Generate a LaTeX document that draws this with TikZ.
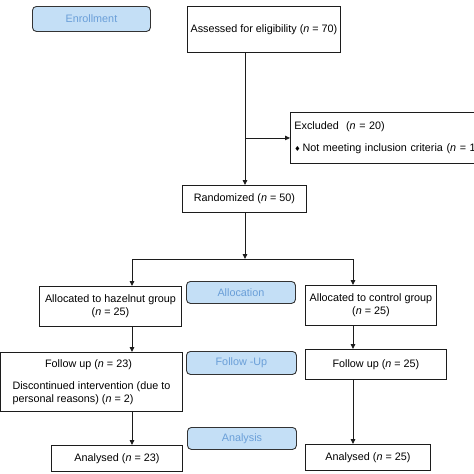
\documentclass[tikz,border=0pt]{standalone}
\usepackage{fontspec}
\setmainfont{Liberation Sans}
\newfontfamily\symfont{DejaVu Sans}
\usetikzlibrary{arrows.meta,positioning}

\definecolor{stagefill}{HTML}{C4DFF6}
\definecolor{stagetext}{HTML}{6A9FD8}
\definecolor{lines}{HTML}{1C1C1C}

\newcommand{\nn}{\textit{n}}

\begin{document}
\begin{tikzpicture}[x=1pt,y=-1pt,
  font=\fontsize{10.8}{13}\selectfont,
  box/.style={draw=lines, line width=0.9pt, anchor=north west, inner sep=3pt},
  stage/.style={draw=black!80, line width=0.9pt, rounded corners=4pt,
    fill=stagefill, text=stagetext, anchor=north west},
  flow/.style={draw=lines, line width=0.9pt, -{Triangle[length=5pt,width=4.5pt]}}]
  \useasboundingbox (0,0) rectangle (474,474);
  \clip (0,0) rectangle (474,474);

  % stage labels
  \node[stage, minimum width=118pt, minimum height=25pt] (enrol) at (32,6) {Enrollment} ; %
  \node[stage, minimum width=109pt, minimum height=22pt] (alloc) at (186,281) {Allocation} ; %
  \node[stage, minimum width=110pt, minimum height=23pt] (follow) at (186,351) {Follow -Up} ; %
  \node[stage, minimum width=109pt, minimum height=22pt] (analysis) at (187,427) {Analysis} ; %

  % flow boxes
  \node[box, minimum width=153pt, minimum height=46pt] (assess) at (187,6) {Assessed for eligibility (\nn{} = 70)} ; %
  \node[box, minimum width=200pt, minimum height=51pt, text width=192pt, align=left] (excl) at (290,112)
    {Excluded\ \ (\nn{} = 20)\\[9pt]{\symfont\fontsize{7}{8}\selectfont\char"2666}\,Not meeting inclusion criteria (\nn{} = 17)} ; %
  \node[box, minimum width=124pt, minimum height=27pt] (rand) at (182,185) {Randomized (\nn{} = 50)} ; %
  \node[box, minimum width=142pt, minimum height=40pt, align=center] (hazel) at (39,286)
    {Allocated to hazelnut group\\(\nn{} = 25)} ; %
  \node[box, minimum width=131pt, minimum height=40pt, align=center] (ctrl) at (305,285)
    {Allocated to control group\\(\nn{} = 25)} ; %
  \node[box, minimum width=182pt, minimum height=59pt, align=left] (fuL) at (0,352)
    {\makebox[152pt]{Follow up (\nn{} = 23)}\\[9pt]Discontinued intervention (due to\\personal reasons) (\nn{} = 2)} ; %
  \node[box, minimum width=141pt, minimum height=30pt] (fuR) at (305,349) {Follow up (\nn{} = 25)} ; %
  \node[box, minimum width=131pt, minimum height=26pt] (anL) at (51,445) {Analysed (\nn{} = 23)} ; %
  \node[box, minimum width=125pt, minimum height=26pt] (anR) at (305,444) {Analysed (\nn{} = 25)} ; %

  % connectors
  \coordinate (split) at (245,259) ; %
  \coordinate (lsplit) at (132,259) ; %
  \coordinate (rsplit) at (353,259) ; %

  \draw[flow] (split |- assess.south) -- (split |- rand.north) ;
  \draw[flow] (split |- excl.west) -- (excl.west) ;
  \draw[flow] (split |- rand.south) -- (split) ;
  \draw[draw=lines, line width=0.9pt] (lsplit) -- (rsplit) ;
  \draw[flow] (lsplit) -- (lsplit |- hazel.north) ;
  \draw[flow] (rsplit) -- (rsplit |- ctrl.north) ;
  \draw[flow] (lsplit |- hazel.south) -- (lsplit |- fuL.north) ;
  \draw[flow] (rsplit |- ctrl.south) -- (rsplit |- fuR.north) ;
  \draw[flow] (lsplit |- fuL.south) -- (lsplit |- anL.north) ;
  \draw[flow] (rsplit |- fuR.south) -- (rsplit |- anR.north) ;
\end{tikzpicture}
\end{document}
